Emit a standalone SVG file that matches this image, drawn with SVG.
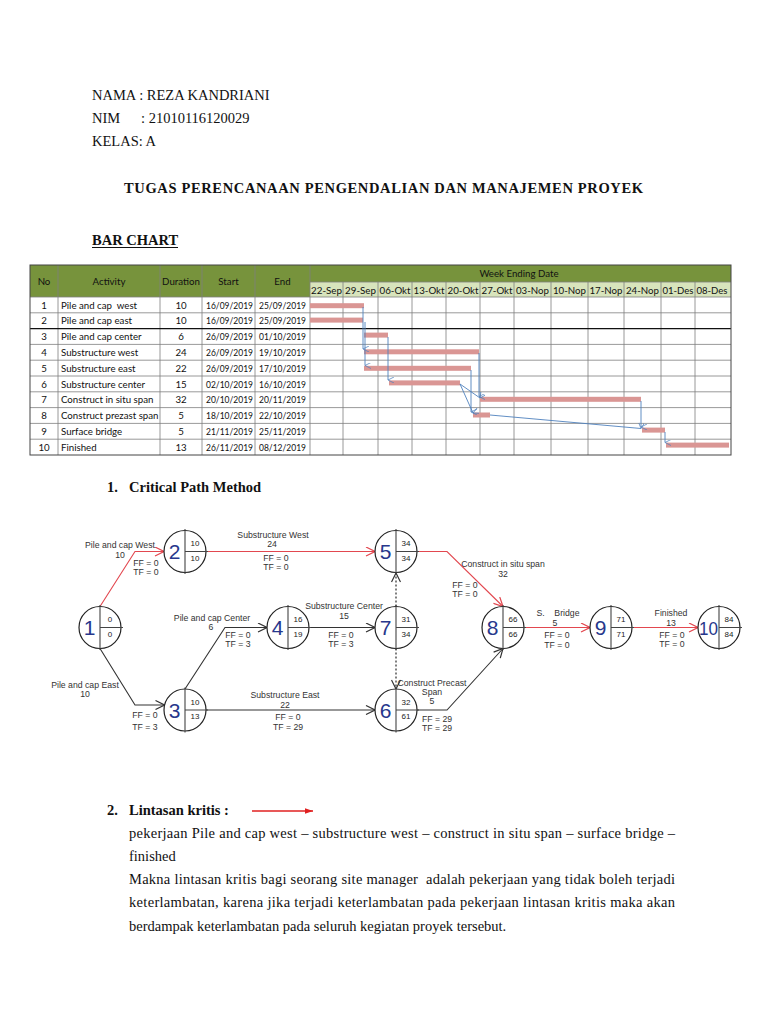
<svg xmlns="http://www.w3.org/2000/svg" width="768" height="1024" viewBox="0 0 768 1024">
<style>
.doc{font-family:"Liberation Serif","Times New Roman",serif;font-size:14.5px;fill:#111}
.b{font-weight:bold}
.tb{font-family:Lato,"Liberation Sans",sans-serif;font-size:9.7px;fill:#111}
.dt{font-family:Lato,"Liberation Sans",sans-serif;font-size:10px;fill:#111;text-anchor:middle}
.c{text-anchor:middle}
.pre{white-space:pre}
.grid{stroke:#7f7f7f;stroke-width:0.8;fill:none}
.bar{fill:#DA9694}
.blue{stroke:#4F81BD;stroke-width:0.9;fill:none;marker-end:url(#ab)}
.lbl{font-family:"Liberation Sans",Arial,sans-serif;font-size:8.7px;fill:#333;text-anchor:middle}
.nc{fill:#fff;stroke:#222;stroke-width:1.2}
.nl{stroke:#444;stroke-width:1.1}
.nb{font-family:"Liberation Sans",Arial,sans-serif;font-size:21px;fill:#27378c;text-anchor:middle}
.ns{font-family:"Liberation Sans",Arial,sans-serif;font-size:8px;fill:#222;text-anchor:middle}
.er{stroke:#E2474F;stroke-width:1.1;fill:none;marker-end:url(#ar)}
.ek{stroke:#333;stroke-width:1.1;fill:none;marker-end:url(#ak)}
.ed{stroke:#555;stroke-width:1.5;stroke-dasharray:2 2;fill:none;marker-end:url(#ak)}
</style>
<defs>
<marker id="ab" viewBox="0 0 8 8" refX="4" refY="8" markerWidth="6" markerHeight="6" orient="auto-start-reverse" markerUnits="userSpaceOnUse">
<path d="M0,0 L4,8 L8,0" fill="none" stroke="#4F81BD" stroke-width="1"/>
</marker>
<marker id="ar" viewBox="0 0 10 10" refX="10" refY="5" markerWidth="10" markerHeight="10" orient="auto" markerUnits="userSpaceOnUse">
<path d="M1,0.5 L10,5 L1,9.5" fill="none" stroke="#E2474F" stroke-width="1.2"/>
</marker>
<marker id="ak" viewBox="0 0 10 10" refX="10" refY="5" markerWidth="10" markerHeight="10" orient="auto" markerUnits="userSpaceOnUse">
<path d="M1,0.5 L10,5 L1,9.5" fill="none" stroke="#333" stroke-width="1.2"/>
</marker>
<marker id="arf" viewBox="0 0 10 10" refX="10" refY="5" markerWidth="8" markerHeight="8" orient="auto" markerUnits="userSpaceOnUse">
<path d="M0,1.5 L10,5 L0,8.5 Z" fill="#E02020"/>
</marker>
</defs>
<rect width="768" height="1024" fill="#fff"/>

<g id="header">
<text class="doc" x="92" y="100">NAMA : REZA KANDRIANI</text>
<text class="doc" x="92" y="123">NIM</text>
<text class="doc" x="141" y="123">: 21010116120029</text>
<text class="doc" x="92" y="146">KELAS: A</text>
<text class="doc b" x="124" y="193" textLength="519">TUGAS PERENCANAAN PENGENDALIAN DAN MANAJEMEN PROYEK</text>
<text class="doc b" x="92" y="245">BAR CHART</text>
<line x1="92" y1="247.5" x2="178" y2="247.5" stroke="#111" stroke-width="1"/>
</g>

<g id="bar-chart">
<rect x="30" y="265" width="701" height="32" fill="#77933C"/>
<rect x="310" y="282" width="421" height="15" fill="#D8E4BC"/>
<rect x="30" y="297" width="701" height="158" fill="#fff"/>
<g class="grid">
<path d="M310,282H731 M30,297H731 M30,312.8H731 M30,344.4H731 M30,360.2H731 M30,376H731 M30,391.8H731 M30,407.6H731 M30,423.4H731 M30,439.2H731"/>
<path d="M58,265V455 M160,265V455 M202,265V455 M255,265V455 M310,265V455"/>
<path d="M343,282V455 M378,282V455 M412,282V455 M446,282V455 M480,282V455 M514,282V455 M551,282V455 M588,282V455 M624,282V455 M661,282V455 M695,282V455"/>
</g>
<line x1="30" y1="328.6" x2="731" y2="328.6" stroke="#111" stroke-width="1.4"/>
<rect x="30" y="265" width="701" height="190" fill="none" stroke="#444" stroke-width="1"/>

<g class="tb c">
<text x="44" y="285">No</text>
<text x="109" y="285">Activity</text>
<text x="181" y="285">Duration</text>
<text x="228.5" y="285">Start</text>
<text x="282.5" y="285">End</text>
<text x="519" y="277">Week Ending Date</text>
</g>
<g class="dt">
<text x="326.5" y="293.5" textLength="31" lengthAdjust="spacingAndGlyphs">22-Sep</text>
<text x="360.5" y="293.5" textLength="31" lengthAdjust="spacingAndGlyphs">29-Sep</text>
<text x="395" y="293.5" textLength="31" lengthAdjust="spacingAndGlyphs">06-Okt</text>
<text x="429" y="293.5" textLength="31" lengthAdjust="spacingAndGlyphs">13-Okt</text>
<text x="463" y="293.5" textLength="31" lengthAdjust="spacingAndGlyphs">20-Okt</text>
<text x="497" y="293.5" textLength="31" lengthAdjust="spacingAndGlyphs">27-Okt</text>
<text x="532.5" y="293.5" textLength="33" lengthAdjust="spacingAndGlyphs">03-Nop</text>
<text x="569.5" y="293.5" textLength="33" lengthAdjust="spacingAndGlyphs">10-Nop</text>
<text x="606" y="293.5" textLength="33" lengthAdjust="spacingAndGlyphs">17-Nop</text>
<text x="642.5" y="293.5" textLength="33" lengthAdjust="spacingAndGlyphs">24-Nop</text>
<text x="678" y="293.5" textLength="31" lengthAdjust="spacingAndGlyphs">01-Des</text>
<text x="712" y="293.5" textLength="31" lengthAdjust="spacingAndGlyphs">08-Des</text>
</g>

<g class="tb">
<text class="c" x="44" y="308.5">1</text><text class="pre" x="61" y="308.5">Pile and cap  west</text><text class="c" x="181" y="308.5">10</text>
<text class="c" x="44" y="324.3">2</text><text x="61" y="324.3">Pile and cap east</text><text class="c" x="181" y="324.3">10</text>
<text class="c" x="44" y="340.1">3</text><text x="61" y="340.1">Pile and cap center</text><text class="c" x="181" y="340.1">6</text>
<text class="c" x="44" y="355.9">4</text><text x="61" y="355.9">Substructure west</text><text class="c" x="181" y="355.9">24</text>
<text class="c" x="44" y="371.7">5</text><text x="61" y="371.7">Substructure east</text><text class="c" x="181" y="371.7">22</text>
<text class="c" x="44" y="387.5">6</text><text x="61" y="387.5">Substructure center</text><text class="c" x="181" y="387.5">15</text>
<text class="c" x="44" y="403.3">7</text><text x="61" y="403.3">Construct in situ span</text><text class="c" x="181" y="403.3">32</text>
<text class="c" x="44" y="419.1">8</text><text x="61" y="419.1">Construct prezast span</text><text class="c" x="181" y="419.1">5</text>
<text class="c" x="44" y="434.9">9</text><text x="61" y="434.9">Surface bridge</text><text class="c" x="181" y="434.9">5</text>
<text class="c" x="44" y="450.7">10</text><text x="61" y="450.7">Finished</text><text class="c" x="181" y="450.7">13</text>
</g>
<g class="dt">
<text x="229.5" y="308.5" textLength="47" lengthAdjust="spacingAndGlyphs">16/09/2019</text><text x="282.5" y="308.5" textLength="47" lengthAdjust="spacingAndGlyphs">25/09/2019</text>
<text x="229.5" y="324.3" textLength="47" lengthAdjust="spacingAndGlyphs">16/09/2019</text><text x="282.5" y="324.3" textLength="47" lengthAdjust="spacingAndGlyphs">25/09/2019</text>
<text x="229.5" y="340.1" textLength="47" lengthAdjust="spacingAndGlyphs">26/09/2019</text><text x="282.5" y="340.1" textLength="47" lengthAdjust="spacingAndGlyphs">01/10/2019</text>
<text x="229.5" y="355.9" textLength="47" lengthAdjust="spacingAndGlyphs">26/09/2019</text><text x="282.5" y="355.9" textLength="47" lengthAdjust="spacingAndGlyphs">19/10/2019</text>
<text x="229.5" y="371.7" textLength="47" lengthAdjust="spacingAndGlyphs">26/09/2019</text><text x="282.5" y="371.7" textLength="47" lengthAdjust="spacingAndGlyphs">17/10/2019</text>
<text x="229.5" y="387.5" textLength="47" lengthAdjust="spacingAndGlyphs">02/10/2019</text><text x="282.5" y="387.5" textLength="47" lengthAdjust="spacingAndGlyphs">16/10/2019</text>
<text x="229.5" y="403.3" textLength="47" lengthAdjust="spacingAndGlyphs">20/10/2019</text><text x="282.5" y="403.3" textLength="47" lengthAdjust="spacingAndGlyphs">20/11/2019</text>
<text x="229.5" y="419.1" textLength="47" lengthAdjust="spacingAndGlyphs">18/10/2019</text><text x="282.5" y="419.1" textLength="47" lengthAdjust="spacingAndGlyphs">22/10/2019</text>
<text x="229.5" y="434.9" textLength="47" lengthAdjust="spacingAndGlyphs">21/11/2019</text><text x="282.5" y="434.9" textLength="47" lengthAdjust="spacingAndGlyphs">25/11/2019</text>
<text x="229.5" y="450.7" textLength="47" lengthAdjust="spacingAndGlyphs">26/11/2019</text><text x="282.5" y="450.7" textLength="47" lengthAdjust="spacingAndGlyphs">08/12/2019</text>
</g>

<g id="bars">
<rect class="bar" x="310" y="303.2" width="54" height="5"/>
<rect class="bar" x="310" y="317.6" width="53" height="5"/>
<rect class="bar" x="364" y="332.6" width="24" height="5"/>
<rect class="bar" x="364" y="349.3" width="115" height="5"/>
<rect class="bar" x="364" y="365.8" width="107" height="5"/>
<rect class="bar" x="389" y="380.4" width="71" height="5"/>
<rect class="bar" x="480" y="396.8" width="161" height="5"/>
<rect class="bar" x="473" y="412.5" width="17" height="5"/>
<rect class="bar" x="642" y="427.6" width="23" height="5"/>
<rect class="bar" x="666" y="442.6" width="63" height="5"/>
</g>
<g id="bar-links">
<path class="blue" d="M363,307 V349"/>
<path class="blue" d="M365,322 V365.5"/>
<path class="blue" d="M388,337 V380"/>
<path class="blue" d="M479,353 V396.5"/>
<path class="blue" d="M471,370 V412"/>
<path class="blue" d="M460,384 L480,398"/>
<path class="blue" d="M460,384 L473,413"/>
<path class="blue" d="M490,415 L641,428.5"/>
<path class="blue" d="M641,401 V427"/>
<path class="blue" d="M665,432 V442.5"/>
</g>
</g>

<g id="cpm-title">
<text class="doc b" x="107" y="492">1.</text>
<text class="doc b" x="129" y="492">Critical Path Method</text>
</g>

<g id="connectors">
<path class="er" d="M100,606.5 L135,551.5 L164,551.5"/>
<path class="er" d="M206,551.5 L375,551.5"/>
<path class="er" d="M417,551.5 L447,551.5 L503,606.5"/>
<path class="er" d="M524,627.5 L590,627.5"/>
<path class="er" d="M632,627.5 L698,627.5"/>
<path class="ek" d="M100,648.5 L135,705 L164.5,705"/>
<path class="ek" d="M185,689 L225,627.5 L267,627.5"/>
<path class="ek" d="M309,627.5 L375,627.5"/>
<path class="ek" d="M206,710 L375,710"/>
<path class="ek" d="M417,710 L447,710 L503,648.5"/>
<path class="ed" d="M396,606.5 L396,573"/>
<path class="ed" d="M396,648.5 L396,689"/>
</g>

<g id="edge-labels">
<text class="lbl" x="120" y="548">Pile and cap West</text><text class="lbl" x="120" y="557.5">10</text>
<text class="lbl" x="146" y="565.5">FF = 0</text><text class="lbl" x="146" y="574.5">TF = 0</text>
<text class="lbl" x="273" y="537.5">Substructure West</text><text class="lbl" x="272" y="547">24</text>
<text class="lbl" x="276" y="560.5">FF = 0</text><text class="lbl" x="276" y="569.5">TF = 0</text>
<text class="lbl" x="503" y="567">Construct in situ span</text><text class="lbl" x="503" y="577">32</text>
<text class="lbl" x="465" y="588">FF = 0</text><text class="lbl" x="465" y="597">TF = 0</text>
<text class="lbl pre" x="558" y="616">S.    Bridge</text><text class="lbl" x="555" y="625.5">5</text>
<text class="lbl" x="557" y="638">FF = 0</text><text class="lbl" x="557" y="648">TF = 0</text>
<text class="lbl" x="671" y="616">Finished</text><text class="lbl" x="671" y="625.5">13</text>
<text class="lbl" x="672" y="638">FF = 0</text><text class="lbl" x="672" y="647">TF = 0</text>
<text class="lbl" x="85" y="687.5">Pile and cap East</text><text class="lbl" x="85" y="697">10</text>
<text class="lbl" x="145" y="717.5">FF = 0</text><text class="lbl" x="145" y="729.5">TF = 3</text>
<text class="lbl" x="212" y="621">Pile and cap Center</text><text class="lbl" x="211" y="630">6</text>
<text class="lbl" x="238" y="638">FF = 0</text><text class="lbl" x="238" y="647">TF = 3</text>
<text class="lbl" x="344" y="609">Substructure Center</text><text class="lbl" x="344" y="619">15</text>
<text class="lbl" x="341" y="638">FF = 0</text><text class="lbl" x="341" y="647">TF = 3</text>
<text class="lbl" x="285" y="698">Substructure East</text><text class="lbl" x="285" y="707.5">22</text>
<text class="lbl" x="288" y="719.5">FF = 0</text><text class="lbl" x="288" y="729.5">TF = 29</text>
<text class="lbl" x="432" y="685.5">Construct Precast</text><text class="lbl" x="432" y="695">Span</text><text class="lbl" x="432" y="704">5</text>
<text class="lbl" x="437" y="722">FF = 29</text><text class="lbl" x="437" y="731">TF = 29</text>
</g>

<g id="node-1"><circle class="nc" cx="100" cy="627.5" r="21"/><path class="nl" d="M100,605V650 M100,627.5H123"/><text class="nb" x="89.5" y="635">1</text><text class="ns" x="110" y="622">0</text><text class="ns" x="110" y="636.5">0</text></g>
<g id="node-2"><circle class="nc" cx="185" cy="551.5" r="21"/><path class="nl" d="M185,529V574 M185,551.5H208"/><text class="nb" x="174.5" y="559">2</text><text class="ns" x="195" y="546">10</text><text class="ns" x="195" y="560.5">10</text></g>
<g id="node-3"><circle class="nc" cx="185" cy="710" r="21"/><path class="nl" d="M185,687.5V732.5 M185,710H208"/><text class="nb" x="174.5" y="717.5">3</text><text class="ns" x="195" y="704.5">10</text><text class="ns" x="195" y="719">13</text></g>
<g id="node-4"><circle class="nc" cx="288" cy="627.5" r="21"/><path class="nl" d="M288,605V650 M288,627.5H311"/><text class="nb" x="277.5" y="635">4</text><text class="ns" x="298" y="622">16</text><text class="ns" x="298" y="636.5">19</text></g>
<g id="node-5"><circle class="nc" cx="396" cy="551.5" r="21"/><path class="nl" d="M396,529V574 M396,551.5H419"/><text class="nb" x="385.5" y="559">5</text><text class="ns" x="406" y="546">34</text><text class="ns" x="406" y="560.5">34</text></g>
<g id="node-6"><circle class="nc" cx="396" cy="710" r="21"/><path class="nl" d="M396,687.5V732.5 M396,710H419"/><text class="nb" x="385.5" y="717.5">6</text><text class="ns" x="406" y="704.5">32</text><text class="ns" x="406" y="719">61</text></g>
<g id="node-7"><circle class="nc" cx="396" cy="627.5" r="21"/><path class="nl" d="M396,605V650 M396,627.5H419"/><text class="nb" x="385.5" y="635">7</text><text class="ns" x="406" y="622">31</text><text class="ns" x="406" y="636.5">34</text></g>
<g id="node-8"><circle class="nc" cx="503" cy="627.5" r="21"/><path class="nl" d="M503,605V650 M503,627.5H526"/><text class="nb" x="492.5" y="635">8</text><text class="ns" x="513" y="622">66</text><text class="ns" x="513" y="636.5">66</text></g>
<g id="node-9"><circle class="nc" cx="611" cy="627.5" r="21"/><path class="nl" d="M611,605V650 M611,627.5H634"/><text class="nb" x="600.5" y="635">9</text><text class="ns" x="621" y="622">71</text><text class="ns" x="621" y="636.5">71</text></g>
<g id="node-10"><circle class="nc" cx="719" cy="627.5" r="21"/><path class="nl" d="M719,605V650 M719,627.5H742"/><text class="nb" x="708.5" y="634.5" style="font-size:18px" textLength="19" lengthAdjust="spacingAndGlyphs">10</text><text class="ns" x="729" y="622">84</text><text class="ns" x="729" y="636.5">84</text></g>

<g id="section-2">
<text class="doc b" x="107" y="815">2.</text>
<text class="doc b" x="129" y="815">Lintasan kritis :</text>
<line x1="252" y1="811" x2="313" y2="811" stroke="#E02020" stroke-width="1.3" marker-end="url(#arf)"/>
<text class="doc" x="129" y="838" textLength="546">pekerjaan Pile and cap west – substructure west – construct in situ span – surface bridge –</text>
<text class="doc" x="129" y="861">finished</text>
<text class="doc pre" x="129" y="884" textLength="546">Makna lintasan kritis bagi seorang site manager  adalah pekerjaan yang tidak boleh terjadi</text>
<text class="doc" x="129" y="907" textLength="546">keterlambatan, karena jika terjadi keterlambatan pada pekerjaan lintasan kritis maka akan</text>
<text class="doc" x="129" y="931">berdampak keterlambatan pada seluruh kegiatan proyek tersebut.</text>
</g>
</svg>
